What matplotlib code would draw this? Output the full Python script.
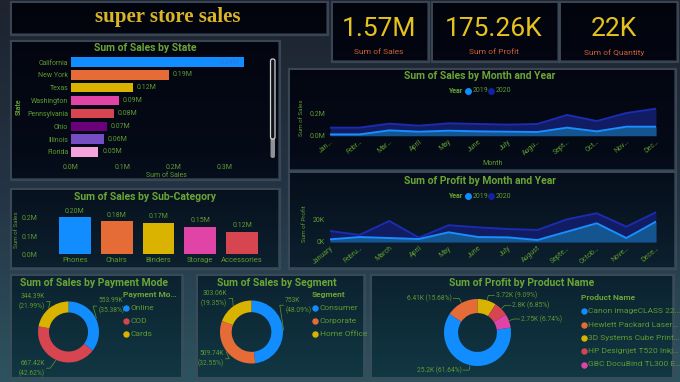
import numpy as np
import matplotlib
matplotlib.use("Agg")
import matplotlib.pyplot as plt
from matplotlib.patches import Rectangle, FancyBboxPatch
from matplotlib.lines import Line2D
from matplotlib.colors import LinearSegmentedColormap

plt.rcParams['font.family'] = ['Roboto', 'DejaVu Sans']

W, H = 680, 382

# ---- data ----
states = ["California", "New York", "Texas", "Washington", "Pennsylvania", "Ohio", "Illinois", "Florida"]
state_sales = [0.337, 0.19, 0.12, 0.093, 0.083, 0.070, 0.064, 0.053]

months = list(range(12))
sales_month_labels = ["Jan…", "Febr…", "Mar…", "April", "May", "June", "July", "Augu…", "Sept…", "Oct…", "Nov…", "Dec…"]
profit_month_labels = ["January", "Febru…", "March", "April", "May", "June", "July", "August", "Septe…", "Octob…", "Nove…", "Dece…"]
sales_2019 = [0.012, 0.012, 0.049, 0.037, 0.046, 0.040, 0.037, 0.034, 0.074, 0.040, 0.083, 0.083]
sales_2020 = [0.062, 0.062, 0.062, 0.055, 0.068, 0.068, 0.065, 0.074, 0.117, 0.095, 0.126, 0.166]
profit_2019 = [2.4, 4.5, 3.6, 2.7, 8.8, 4.5, 4.2, 1.8, 9.4, 17.0, 3.6, 18.5]
profit_2020 = [7.6, 1.9, 15.5, 1.2, 6.4, 8.8, 7.6, 9.1, 11.2, 9.1, 10.3, 8.5]

subcats = ["Phones", "Chairs", "Binders", "Storage", "Accessories"]
subcat_sales = [0.204, 0.183, 0.174, 0.152, 0.124]

pay_modes = ["Online", "COD", "Cards"]
pay_sales = [553.99, 667.42, 344.39]
pay_pct = [35.38, 42.62, 21.99]

segments = ["Consumer", "Corporate", "Home Office"]
seg_sales = [753.0, 509.74, 303.06]
seg_pct = [48.09, 32.55, 19.35]

products = ["Canon imageCLASS 22…", "Hewlett Packard Laser…", "3D Systems Cube Print…",
            "HP Designjet T520 Inkj…", "GBC DocuBind TL300 E…"]
prod_profit = [25.2, 6.41, 3.72, 2.8, 2.75]
prod_pct = [61.64, 15.68, 9.09, 6.85, 6.74]

kpi_values = ["1.57M", "175.26K", "22K"]
kpi_names = ["Sum of Sales", "Sum of Profit", "Sum of Quantity"]

# ---- style ----
BLUE, NAVY, ORANGE, YELLOW = "#118DFF", "#12239E", "#E66C37", "#D9B300"
PINK, RED, PURPLE, VIOLET, LPINK = "#E044A7", "#D64550", "#6B007B", "#744EC2", "#F4A3DB"
GREEN = "#5e9a30"
TGREEN = "#6aa535"
GOLD = "#e6c21c"

state_colors = [BLUE, ORANGE, YELLOW, PINK, RED, PURPLE, VIOLET, LPINK]
subcat_colors = [BLUE, ORANGE, YELLOW, PINK, RED]

page_cmap = LinearSegmentedColormap.from_list("page", ["#1e232f", "#243444", "#2e5360"])
panel_cmap = LinearSegmentedColormap.from_list(
    "panel", [(0, "#02040d"), (0.4, "#050a17"), (0.65, "#0b1c2a"), (1, "#113844")])

fig = plt.figure(figsize=(W / 100, H / 100), dpi=100)


def fbox(x0, y0, x1, y1):
    return [x0 / W, 1 - y1 / H, (x1 - x0) / W, (y1 - y0) / H]


def ftext(x, y, s, **kw):
    kw.setdefault("color", GREEN)
    kw.setdefault("ha", "center")
    kw.setdefault("va", "center")
    return fig.text(x / W, 1 - y / H, s, **kw)


def fdot(x, y, color, size=3.6):
    fig.add_artist(Line2D([x / W], [1 - y / H], marker="o", ms=size, color=color,
                          lw=0, transform=fig.transFigure))


bg = fig.add_axes([0, 0, 1, 1])
bg.axis("off")
grad = np.linspace(0, 1, 200)[:, None]
bg.imshow(grad, cmap=page_cmap, extent=(0, W, H, 0), aspect="auto", zorder=0)

panels = {
    "title": (12, 3, 326, 33), "kpi1": (333, 3, 427, 60), "kpi2": (433, 3, 557, 60),
    "kpi3": (561, 3, 676, 60), "state": (12, 42, 278, 178), "smonth": (290, 70, 674, 169),
    "pmonth": (290, 173, 674, 267), "subcat": (12, 190, 278, 267), "pay": (12, 276, 181, 377),
    "seg": (198, 276, 363, 377), "prod": (372, 276, 672, 377),
}
for (x0, y0, x1, y1) in panels.values():
    bg.add_patch(Rectangle((x0 - 1.5, y0 - 1.5), x1 - x0 + 3, y1 - y0 + 3, fc="none",
                           ec="#3e4b59", lw=1.6, alpha=0.85, zorder=1))
    g = np.linspace(y0 / H, y1 / H, 60)[:, None]
    bg.imshow(g, cmap=panel_cmap, vmin=0, vmax=1, extent=(x0, x1, y1, y0), aspect="auto", zorder=2)
bg.set_xlim(0, W)
bg.set_ylim(H, 0)

# ---- title & KPIs ----
ftext(168, 17, "super store sales", color="#d9b52a", fontsize=15, fontweight="bold",
      family=["Liberation Serif", "DejaVu Serif"])
kpi_cx = [379, 494, 614]
for cx, v, n in zip(kpi_cx, kpi_values, kpi_names):
    ftext(cx, 29, v, color=GOLD, fontsize=19)
    ftext(cx, 52.5, n, color="#cf5f35", fontsize=6)


def style_axes(ax):
    ax.set_facecolor("none")
    for s in ax.spines.values():
        s.set_visible(False)
    ax.tick_params(length=0, labelsize=5, colors=GREEN)


# ---- sales by state ----
ftext(145, 48, "Sum of Sales by State", color=TGREEN, fontsize=7.5, fontweight="bold")
ax = fig.add_axes(fbox(71, 55.6, 262, 158.4))
style_axes(ax)
yy = np.arange(len(states))
ax.barh(yy, state_sales, height=0.74, color=state_colors)
ax.set_ylim(len(states) - 0.5, -0.5)
ax.set_xlim(0, 0.372)
ax.set_yticks(yy, states)
ax.set_xticks([0, 0.1, 0.2, 0.3], ["0.0M", "0.1M", "0.2M", "0.3M"])
ax.tick_params(axis="x", pad=4)
ax.tick_params(axis="y", pad=2)
for i, v in enumerate(state_sales):
    if v > 0.3:
        ax.text(v - 0.008, i, f"{v:.2f}M", ha="right", va="center", fontsize=5, color="#2a78d8")
    else:
        ax.text(v + 0.008, i, f"{v:.2f}M", ha="left", va="center", fontsize=5, color=GREEN)
ax.set_xlabel("Sum of Sales", fontsize=5, color=GREEN, labelpad=1)
ax.set_ylabel("State", fontsize=5, color=GREEN, labelpad=3, fontweight="bold")
# scrollbar
bg.add_patch(FancyBboxPatch((270.5, 137), 4.5, 21, boxstyle="round,pad=0,rounding_size=2",
                            fc="#8e9196", ec="none", zorder=3))
bg.add_patch(FancyBboxPatch((270.5, 59), 4.5, 80, boxstyle="round,pad=0,rounding_size=2",
                            fc="#101319", ec="#d4d4d4", lw=0.9, zorder=4))

# ---- month charts ----
title_txt = {"Sum of Sales": "Sum of Sales by Month and Year",
             "Sum of Profit": "Sum of Profit by Month and Year"}


def month_chart(box, title_y, leg_y, v19, v20, ylim, ticks, ticklabels, ylabel, xlabels, show_xlabel):
    ftext(480, title_y, title_txt[ylabel], color=TGREEN, fontsize=7.5, fontweight="bold")
    ftext(455, leg_y, "Year", fontsize=5, fontweight="bold", color=TGREEN)
    fdot(468, leg_y, BLUE, 4)
    ftext(480.5, leg_y, "2019", fontsize=5)
    fdot(491, leg_y, NAVY, 4)
    ftext(503.5, leg_y, "2020", fontsize=5)
    ax = fig.add_axes(fbox(*box))
    style_axes(ax)
    v19 = np.array(v19)
    top = v19 + np.array(v20)
    ax.fill_between(months, 0, top, color="#111c62", lw=0)
    ax.fill_between(months, 0, v19, color="#15558f", lw=0)
    ax.plot(months, top, color="#1c2cb0", lw=1.4)
    ax.plot(months, v19, color="#1a8dff", lw=1.4)
    ax.set_xlim(0, 11)
    ax.set_ylim(0, ylim)
    ax.set_yticks(ticks, ticklabels)
    ax.set_xticks(months, xlabels, rotation=40, ha="right", rotation_mode="anchor")
    ax.tick_params(axis="x", pad=2)
    ax.set_ylabel(ylabel, fontsize=4.5, color=GREEN, labelpad=4)
    if show_xlabel:
        ax.set_xlabel("Month", fontsize=5, color=GREEN, labelpad=2)
    return ax


month_chart((330, 100, 656, 135.7), 76, 91, sales_2019, sales_2020, 0.329,
            [0, 0.2], ["0.0M", "0.2M"], "Sum of Sales", sales_month_labels, True)
month_chart((330, 205, 656, 242), 181, 196, profit_2019, profit_2020, 33.6,
            [0, 20], ["0K", "20K"], "Sum of Profit", profit_month_labels, False)

# ---- sub-category ----
ftext(145, 197, "Sum of Sales by Sub-Category", color=TGREEN, fontsize=7.5, fontweight="bold")
ax = fig.add_axes(fbox(54, 205, 263, 254.3))
style_axes(ax)
xx = np.arange(len(subcats))
ax.bar(xx, subcat_sales, width=0.76, color=subcat_colors)
ax.set_xlim(-0.5, len(subcats) - 0.5)
ax.set_ylim(0, 0.27)
ax.set_xticks(xx, subcats)
ax.set_yticks([0, 0.1, 0.2], ["0.0M", "0.1M", "0.2M"])
ax.tick_params(axis="x", labelsize=5.5, pad=2)
ax.tick_params(axis="y", pad=12)
for i, v in enumerate(subcat_sales):
    ax.text(i, v + 0.012, f"{v:.2f}M", ha="center", va="bottom", fontsize=5, color=GREEN)
ax.set_ylabel("Sum of Sales", fontsize=4.5, color=GREEN, labelpad=2)


# ---- donuts ----
def donut(cx, cy, R, vals, pcts, colors, ring, start, two_line):
    ax = fig.add_axes(fbox(cx - 2 * R, cy - 2 * R, cx + 2 * R, cy + 2 * R))
    wedges, _ = ax.pie(vals, colors=colors, startangle=start, counterclock=False, radius=1,
                       wedgeprops=dict(width=ring, edgecolor="none"))
    ax.set_xlim(-2, 2)
    ax.set_ylim(-2, 2)
    ax.set_aspect("equal")
    ax.axis("off")
    for w, v, p in zip(wedges, vals, pcts):
        a = np.deg2rad((w.theta1 + w.theta2) / 2)
        c, s = np.cos(a), np.sin(a)
        side = 1 if c >= 0 else -1
        if two_line:
            # labels pushed toward the top / bottom of the ring
            ex = side * max(0.6, abs(c) * 0.9)
            ey = np.sign(s) * max(abs(s) * 1.3, 0.85)
            tail = 0.12
        else:
            ex, ey = 1.15 * c, 1.15 * s
            tail = 0.18
        hx = ex + side * tail
        ax.plot([1.02 * c, ex, hx], [1.02 * s, ey, ey], color=GREEN, lw=0.5, clip_on=False)
        txt = f"{v:g}K\n({p:.2f}%)" if two_line else f"{v:g}K ({p:.2f}%)"
        ax.text(hx + side * 0.05, ey, txt, ha="left" if side > 0 else "right", va="center",
                fontsize=4.8, color=GREEN, linespacing=1.45, clip_on=False)


def legend_block(x, y, title, names, colors, dy):
    ftext(x, y, title, ha="left", fontsize=6, fontweight="bold", color=TGREEN)
    for k, (n, c) in enumerate(zip(names, colors)):
        fdot(x + 3, y + dy * (k + 1), c)
        ftext(x + 7.5, y + dy * (k + 1), n, ha="left", fontsize=6, color=GREEN)


ftext(94, 283, "Sum of Sales by Payment Mode", color=TGREEN, fontsize=7.5, fontweight="bold")
donut(68.5, 332, 30.5, pay_sales, pay_pct, [BLUE, RED, YELLOW], 0.36, 90, True)
legend_block(123, 295, "Payment Mo…", pay_modes, [BLUE, RED, YELLOW], 13)

ftext(277, 283, "Sum of Sales by Segment", color=TGREEN, fontsize=7.5, fontweight="bold")
donut(251.5, 332, 31.5, seg_sales, seg_pct, [BLUE, ORANGE, YELLOW], 0.37, 90, True)
legend_block(312, 295, "Segment", segments, [BLUE, ORANGE, YELLOW], 13)

ftext(522, 283, "Sum of Profit by Product Name", color=TGREEN, fontsize=7.5, fontweight="bold")
prod_colors = [BLUE, ORANGE, YELLOW, RED, PINK]
donut(477.5, 332.5, 33.5, prod_profit, prod_pct, prod_colors, 0.42,
      90 - 360 * sum(prod_pct[2:]) / 100, False)
legend_block(581, 298, "Product Name", products, prod_colors, 13.3)

fig.savefig("out.png", dpi=100)
